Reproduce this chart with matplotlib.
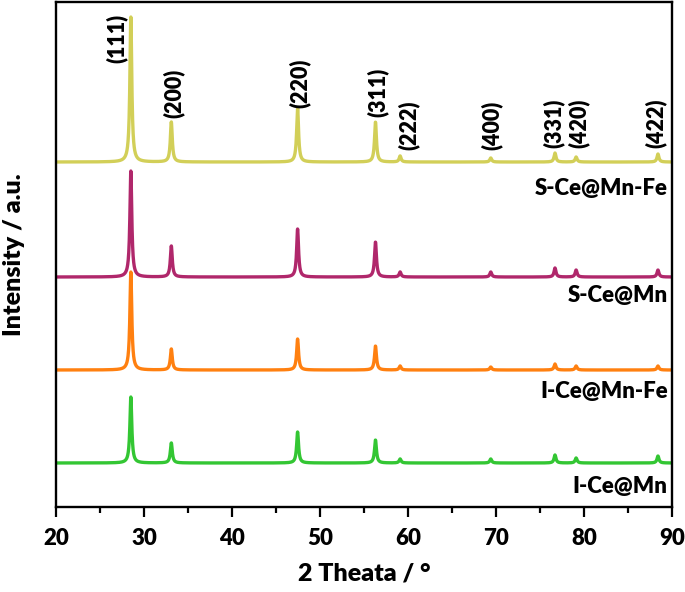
import numpy as np
import matplotlib.pyplot as plt

plt.rcParams['font.family'] = ['Lato', 'DejaVu Sans']
plt.rcParams['font.weight'] = 'heavy'
wt = 'heavy'

# peak positions (2 theta) and hkl labels
peaks = [28.5, 33.1, 47.45, 56.3, 59.1, 69.4, 76.7, 79.1, 88.4]
hkl = ['(111)', '(200)', '(220)', '(311)', '(222)', '(400)', '(331)', '(420)', '(422)']

samples = ['S-Ce@Mn-Fe', 'S-Ce@Mn', 'I-Ce@Mn-Fe', 'I-Ce@Mn']
colors = ['#d2cf58', '#b0276b', '#ff8010', '#33c633']
offsets = [345, 230, 137, 44]

# peak heights for each sample (a.u.)
h_smnfe = [145, 40, 54, 40, 6, 4, 9, 5, 8]
h_smn = [106, 31, 48, 35, 5, 5, 9, 7, 7]
h_imnfe = [98, 21, 31, 24, 4, 3, 6, 4, 4]
h_imn = [66, 20, 31, 23, 4, 4, 8, 5, 7]
heights = [h_smnfe, h_smn, h_imnfe, h_imn]

# where the hkl labels sit
label_x = [26.9, 33.4, 47.7, 56.5, 60.1, 69.5, 76.6, 79.4, 88.1]
label_y = [444, 389, 399, 390, 357, 357, 359, 359, 359]

x = np.linspace(20, 90, 3500)
w = 0.13

fig = plt.figure(figsize=(6.85, 5.92), dpi=100)
ax = fig.add_axes([0.0818, 0.1436, 0.8993, 0.853])

for name, c, off, h in zip(samples, colors, offsets, heights):
    y = np.full_like(x, off, dtype=float)
    for p, a in zip(peaks, h):
        y += a * w**2 / ((x - p)**2 + w**2)
    ax.plot(x, y, color=c, lw=2.4)

for lx, lab, ly in zip(label_x, hkl, label_y):
    ax.text(lx, ly, lab, rotation=90, ha='center', va='bottom',
            fontsize=15.5, fontweight=wt)

label_pos = [319, 211, 115, 20]
for name, ly in zip(samples, label_pos):
    ax.text(89.5, ly, name, ha='right', va='center', fontsize=16, fontweight=wt)

ax.set_xlim(20, 90)
ax.set_ylim(0, 505)
ax.set_yticks([])
ax.set_xticks(range(20, 91, 10))
ax.set_xticks(range(25, 90, 10), minor=True)
ax.tick_params(axis='x', which='major', direction='out', length=7, width=1.6,
               labelsize=16, pad=8)
ax.tick_params(axis='x', which='minor', direction='out', length=4, width=1.6)
for lab in ax.get_xticklabels():
    lab.set_fontweight(wt)
for s in ax.spines.values():
    s.set_linewidth(1.7)

ax.set_xlabel('2 Theata / °', fontsize=18, fontweight=wt, labelpad=10)
ax.set_ylabel('Intensity / a.u.', fontsize=18, fontweight=wt)
ax.yaxis.set_label_coords(-0.05, 0.5)

fig.savefig('out.png', dpi=100)
